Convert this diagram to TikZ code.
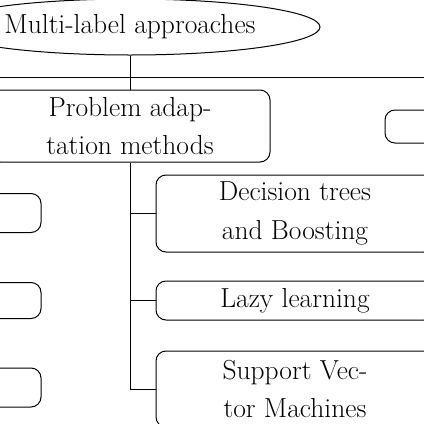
\documentclass[tikz,border=0pt]{standalone}
\usetikzlibrary{shapes.geometric}
\begin{document}
\begin{tikzpicture}[x=1pt,y=-1pt,
  line width=1pt,
  every node/.style={font=\fontsize{27.5}{38.5}\selectfont, inner sep=0pt, align=center},
  rbox/.style={draw, rounded corners=10pt},
  link/.style={draw, line width=1pt}]
\useasboundingbox (0,0) rectangle (424,424);
\clip (0,0) rectangle (424,424);
\node[draw, ellipse, minimum width=380pt, minimum height=56pt] (ell) at (130,27) {Multi-label approaches};
\node[rbox, minimum width=280pt, minimum height=72pt] (pa) at (130,126) {Problem adap-\\tation methods};
\node[rbox, minimum width=80pt, minimum height=33pt] (rb) at (425,126.5) {};
\node[rbox, minimum width=278pt, minimum height=77pt] (dt) at (295,213.5) {Decision trees\\and Boosting};
\node[rbox, minimum width=278pt, minimum height=39pt] (ll) at (295,300.5) {Lazy learning};
\node[rbox, minimum width=278pt, minimum height=76pt] (svm) at (295,389) {Support Vec-\\tor Machines};
\node[rbox, minimum width=180pt, minimum height=39pt] (l1) at (-49,213) {};
\node[rbox, minimum width=180pt, minimum height=36pt] (l2) at (-49,300.5) {};
\node[rbox, minimum width=180pt, minimum height=39pt] (l3) at (-49,387.5) {};
\coordinate (hl) at (-10,77);
\coordinate (hr) at (440,77);
\draw[link] (ell.south) -- (pa.north);
\draw[link] (hl) -- (hr);
\draw[link] (pa.south) |- (dt.west);
\draw[link] (pa.south) |- (ll.west);
\draw[link] (pa.south) |- (svm.west);
\end{tikzpicture}
\end{document}
